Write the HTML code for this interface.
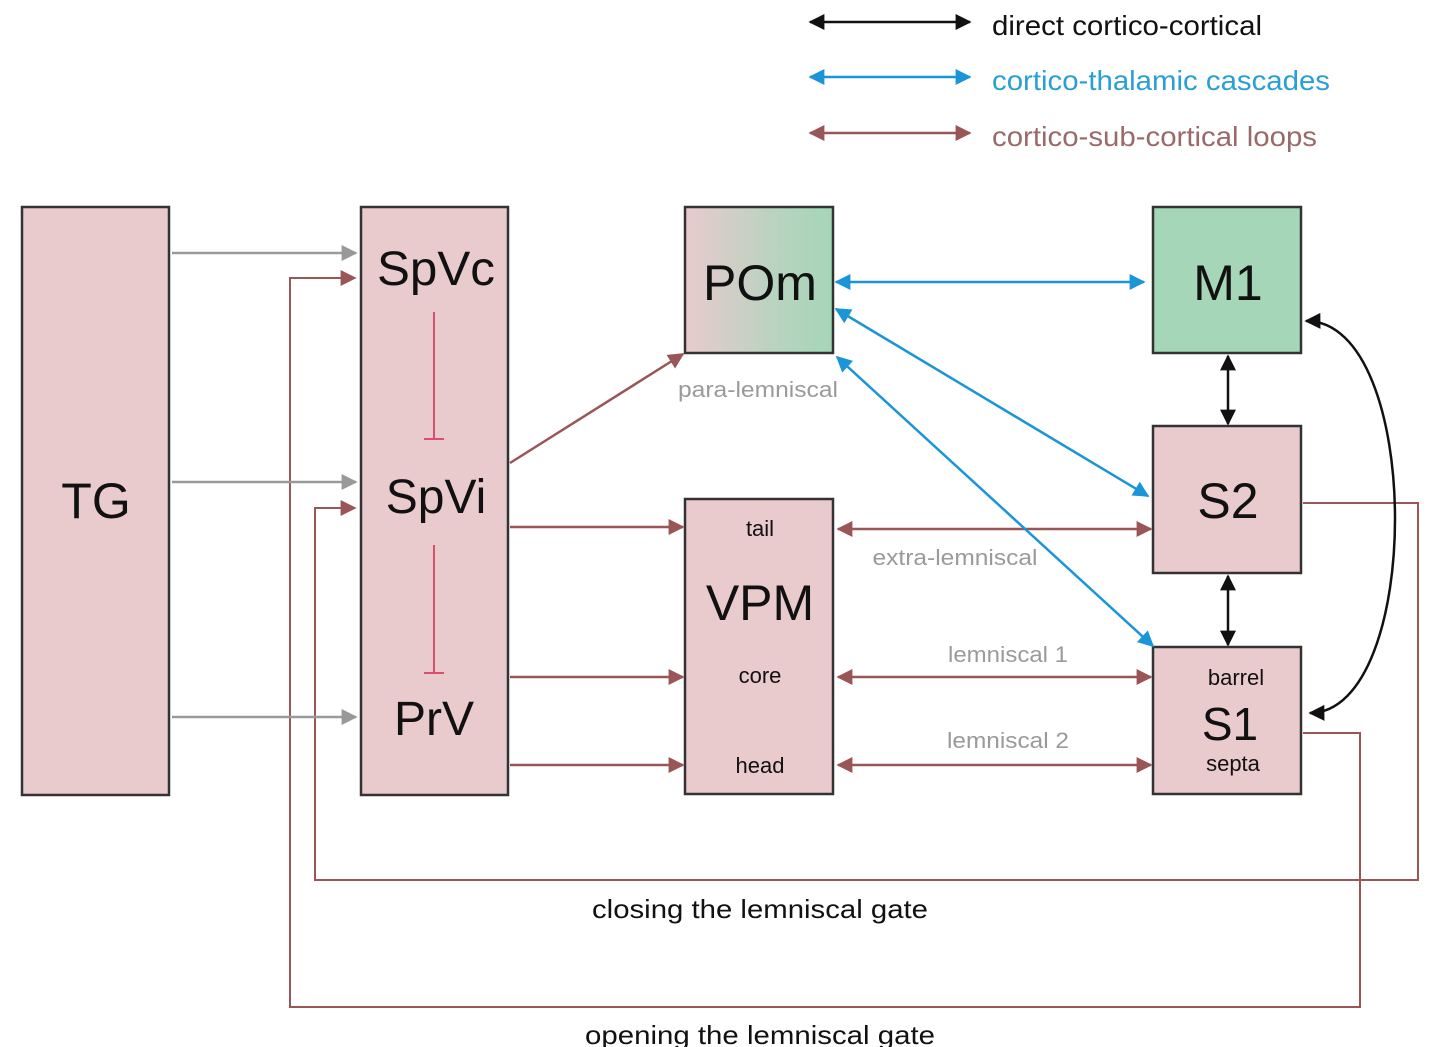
<!DOCTYPE html>
<html><head><meta charset="utf-8"><style>
html,body{margin:0;padding:0;background:#fff;width:1434px;height:1047px;overflow:hidden}
svg{display:block;font-family:"Liberation Sans",Arial,sans-serif}
</style></head><body>
<svg width="1434" height="1047" viewBox="0 0 1434 1047" xmlns="http://www.w3.org/2000/svg">
<defs>
<linearGradient id="pg" x1="0" x2="1" y1="0" y2="0"><stop offset="0" stop-color="#e9cacd"/><stop offset="0.6" stop-color="#b9d3c0"/><stop offset="1" stop-color="#a5d6b8"/></linearGradient>
<marker id="akb" viewBox="0 0 10 10" refX="9" refY="5" markerWidth="22" markerHeight="16" markerUnits="userSpaceOnUse" orient="auto-start-reverse"><path d="M0,0L10,5L0,10z" fill="#111"/></marker>
<marker id="ab" viewBox="0 0 10 10" refX="9" refY="5" markerWidth="22" markerHeight="16" markerUnits="userSpaceOnUse" orient="auto-start-reverse"><path d="M0,0L10,5L0,10z" fill="#1a95d8"/></marker>
<marker id="ar" viewBox="0 0 10 10" refX="9" refY="5" markerWidth="22" markerHeight="16" markerUnits="userSpaceOnUse" orient="auto-start-reverse"><path d="M0,0L10,5L0,10z" fill="#9a5656"/></marker>
<marker id="ag" viewBox="0 0 10 10" refX="9" refY="5" markerWidth="22" markerHeight="16" markerUnits="userSpaceOnUse" orient="auto-start-reverse"><path d="M0,0L10,5L0,10z" fill="#999"/></marker>
</defs>

<line x1="810" y1="22" x2="970" y2="22" stroke="#111" stroke-width="2.5" marker-start="url(#akb)" marker-end="url(#akb)"/>
<line x1="810" y1="77" x2="970" y2="77" stroke="#1a95d8" stroke-width="2.5" marker-start="url(#ab)" marker-end="url(#ab)"/>
<line x1="810" y1="133" x2="970" y2="133" stroke="#9a5656" stroke-width="2.5" marker-start="url(#ar)" marker-end="url(#ar)"/>
<text x="992" y="35" font-size="28" fill="#111" textLength="270" lengthAdjust="spacingAndGlyphs">direct cortico-cortical</text>
<text x="992" y="90" font-size="28" fill="#2a9fd6" textLength="338" lengthAdjust="spacingAndGlyphs">cortico-thalamic cascades</text>
<text x="992" y="146" font-size="28" fill="#9a6a6a" textLength="325" lengthAdjust="spacingAndGlyphs">cortico-sub-cortical loops</text>

<polyline points="1303,733 1360,733 1360,1007 290,1007 290,278 355,278" fill="none" stroke="#9a5656" stroke-width="2" marker-end="url(#ar)"/>
<polyline points="1303,503 1418,503 1418,880 315,880 315,508 355,508" fill="none" stroke="#9a5656" stroke-width="2" marker-end="url(#ar)"/>

<rect x="22" y="207" width="147" height="588" fill="#e9cacd" stroke="#333" stroke-width="2.5"/>
<rect x="361" y="207" width="147" height="588" fill="#e9cacd" stroke="#333" stroke-width="2.5"/>
<rect x="685" y="207" width="148" height="146" fill="url(#pg)" stroke="#333" stroke-width="2.5"/>
<rect x="1153" y="207" width="148" height="146" fill="#a5d6b8" stroke="#333" stroke-width="2.5"/>
<rect x="1153" y="426" width="148" height="147" fill="#e9cacd" stroke="#333" stroke-width="2.5"/>
<rect x="1153" y="647" width="148" height="147" fill="#e9cacd" stroke="#333" stroke-width="2.5"/>
<rect x="685" y="499" width="148" height="295" fill="#e9cacd" stroke="#333" stroke-width="2.5"/>

<line x1="172" y1="253" x2="356" y2="253" stroke="#999" stroke-width="2.5" marker-end="url(#ag)"/>
<line x1="172" y1="482" x2="356" y2="482" stroke="#999" stroke-width="2.5" marker-end="url(#ag)"/>
<line x1="172" y1="717" x2="356" y2="717" stroke="#999" stroke-width="2.5" marker-end="url(#ag)"/>

<g stroke="#d9506e" stroke-width="2"><line x1="434" y1="312" x2="434" y2="439"/><line x1="424" y1="439" x2="444" y2="439"/><line x1="434" y1="545" x2="434" y2="673"/><line x1="424" y1="673" x2="444" y2="673"/></g>

<line x1="510" y1="463" x2="683" y2="354" stroke="#9a5656" stroke-width="2.5" marker-end="url(#ar)"/>
<line x1="510" y1="527" x2="683" y2="527" stroke="#9a5656" stroke-width="2.5" marker-end="url(#ar)"/>
<line x1="510" y1="677" x2="683" y2="677" stroke="#9a5656" stroke-width="2.5" marker-end="url(#ar)"/>
<line x1="510" y1="765" x2="683" y2="765" stroke="#9a5656" stroke-width="2.5" marker-end="url(#ar)"/>

<line x1="838" y1="529" x2="1151" y2="529" stroke="#9a5656" stroke-width="2.5" marker-start="url(#ar)" marker-end="url(#ar)"/>
<line x1="838" y1="677" x2="1151" y2="677" stroke="#9a5656" stroke-width="2.5" marker-start="url(#ar)" marker-end="url(#ar)"/>
<line x1="838" y1="765" x2="1151" y2="765" stroke="#9a5656" stroke-width="2.5" marker-start="url(#ar)" marker-end="url(#ar)"/>

<line x1="836" y1="282" x2="1144" y2="282" stroke="#1a95d8" stroke-width="2.5" marker-start="url(#ab)" marker-end="url(#ab)"/>
<line x1="836" y1="309" x2="1148" y2="496" stroke="#1a95d8" stroke-width="2.5" marker-start="url(#ab)" marker-end="url(#ab)"/>
<line x1="837" y1="357" x2="1153" y2="646" stroke="#1a95d8" stroke-width="2.5" marker-start="url(#ab)" marker-end="url(#ab)"/>

<line x1="1228" y1="356" x2="1228" y2="424" stroke="#111" stroke-width="2.5" marker-start="url(#akb)" marker-end="url(#akb)"/>
<line x1="1228" y1="576" x2="1228" y2="645" stroke="#111" stroke-width="2.5" marker-start="url(#akb)" marker-end="url(#akb)"/>
<path d="M1306,321 C1424,320 1424,712 1310,713" fill="none" stroke="#111" stroke-width="2.5" marker-start="url(#akb)" marker-end="url(#akb)"/>

<g fill="#111" text-anchor="middle">
<text x="96" y="518" font-size="50">TG</text>
<text x="436" y="285" font-size="48" textLength="118" lengthAdjust="spacingAndGlyphs">SpVc</text>
<text x="436" y="513" font-size="48">SpVi</text>
<text x="434" y="735" font-size="48">PrV</text>
<text x="760" y="300" font-size="50">POm</text>
<text x="1228" y="300" font-size="50">M1</text>
<text x="1228" y="518" font-size="50">S2</text>
<text x="1230" y="740" font-size="46">S1</text>
<text x="1236" y="685" font-size="22">barrel</text>
<text x="1233" y="771" font-size="22">septa</text>
<text x="760" y="620" font-size="50">VPM</text>
<text x="760" y="536" font-size="22">tail</text>
<text x="760" y="683" font-size="22">core</text>
<text x="760" y="773" font-size="22">head</text>
<text x="760" y="918" font-size="26" textLength="336" lengthAdjust="spacingAndGlyphs">closing the lemniscal gate</text>
<text x="760" y="1044" font-size="26" textLength="350" lengthAdjust="spacingAndGlyphs">opening the lemniscal gate</text>
</g>
<g fill="#9a9a9a" text-anchor="middle" font-size="22">
<text x="758" y="397" textLength="160" lengthAdjust="spacingAndGlyphs">para-lemniscal</text>
<text x="955" y="565" textLength="165" lengthAdjust="spacingAndGlyphs">extra-lemniscal</text>
<text x="1008" y="662" textLength="120" lengthAdjust="spacingAndGlyphs">lemniscal 1</text>
<text x="1008" y="748" textLength="122" lengthAdjust="spacingAndGlyphs">lemniscal 2</text>
</g>
</svg>
</body></html>
